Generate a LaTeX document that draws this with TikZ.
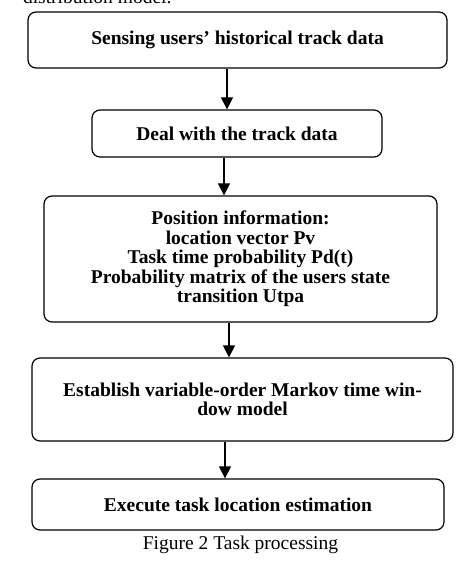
\documentclass[tikz,border=0pt]{standalone}
\usepackage{fontspec}
\setmainfont{Liberation Serif}
\usetikzlibrary{arrows.meta,calc}

\tikzset{
  stepbox/.style={draw, very thick, rounded corners=8pt, align=center,
    font=\fontsize{19.5}{19.5}\selectfont\bfseries, inner sep=0pt},
  arr/.style={very thick, -{Triangle[length=12pt,width=12pt]}}
}

\begin{document}
\begin{tikzpicture}[x=1pt, y=-1pt]
    \useasboundingbox (0,0) rectangle (474,561);

    % tail of the text above the figure
    \node[anchor=base east, font=\fontsize{19.5}{20}\selectfont] (prev) at (175,4) {distribution model.};

    \node[stepbox, minimum width=419pt, minimum height=56pt] (sense) at (237.5,40)
      {Sensing users’ historical track data};
    \node[stepbox, minimum width=290pt, minimum height=47pt] (deal) at (237,133.5)
      {Deal with the track data};
    \node[stepbox, minimum width=393pt, minimum height=126pt] (info) at (240.5,259)
      {Position information:\\ location vector Pv\\ Task time probability Pd(t)\\
       Probability matrix of the users state\\ transition Utpa};
    \node[stepbox, minimum width=421pt, minimum height=83pt] (markov) at (242.5,399.5)
      {Establish variable-order Markov time win-\\dow model};
    \node[stepbox, minimum width=412pt, minimum height=51pt] (exec) at (238,504.5)
      {Execute task location estimation};

    \draw[arr] ([xshift=-10.5pt]sense.south) -- ([xshift=-10.5pt]sense.south |- deal.north);
    \draw[arr] ([xshift=-13pt]deal.south) -- ([xshift=-13pt]deal.south |- info.north);
    \draw[arr] ([xshift=-11.5pt]info.south) -- ([xshift=-11.5pt]info.south |- markov.north);
    \draw[arr] ([xshift=-17.5pt]markov.south) -- ([xshift=-17.5pt]markov.south |- exec.north);

    \node[font=\fontsize{19.5}{20}\selectfont] (cap) at (240.5,545) {Figure 2 Task processing};
\end{tikzpicture}
\end{document}
